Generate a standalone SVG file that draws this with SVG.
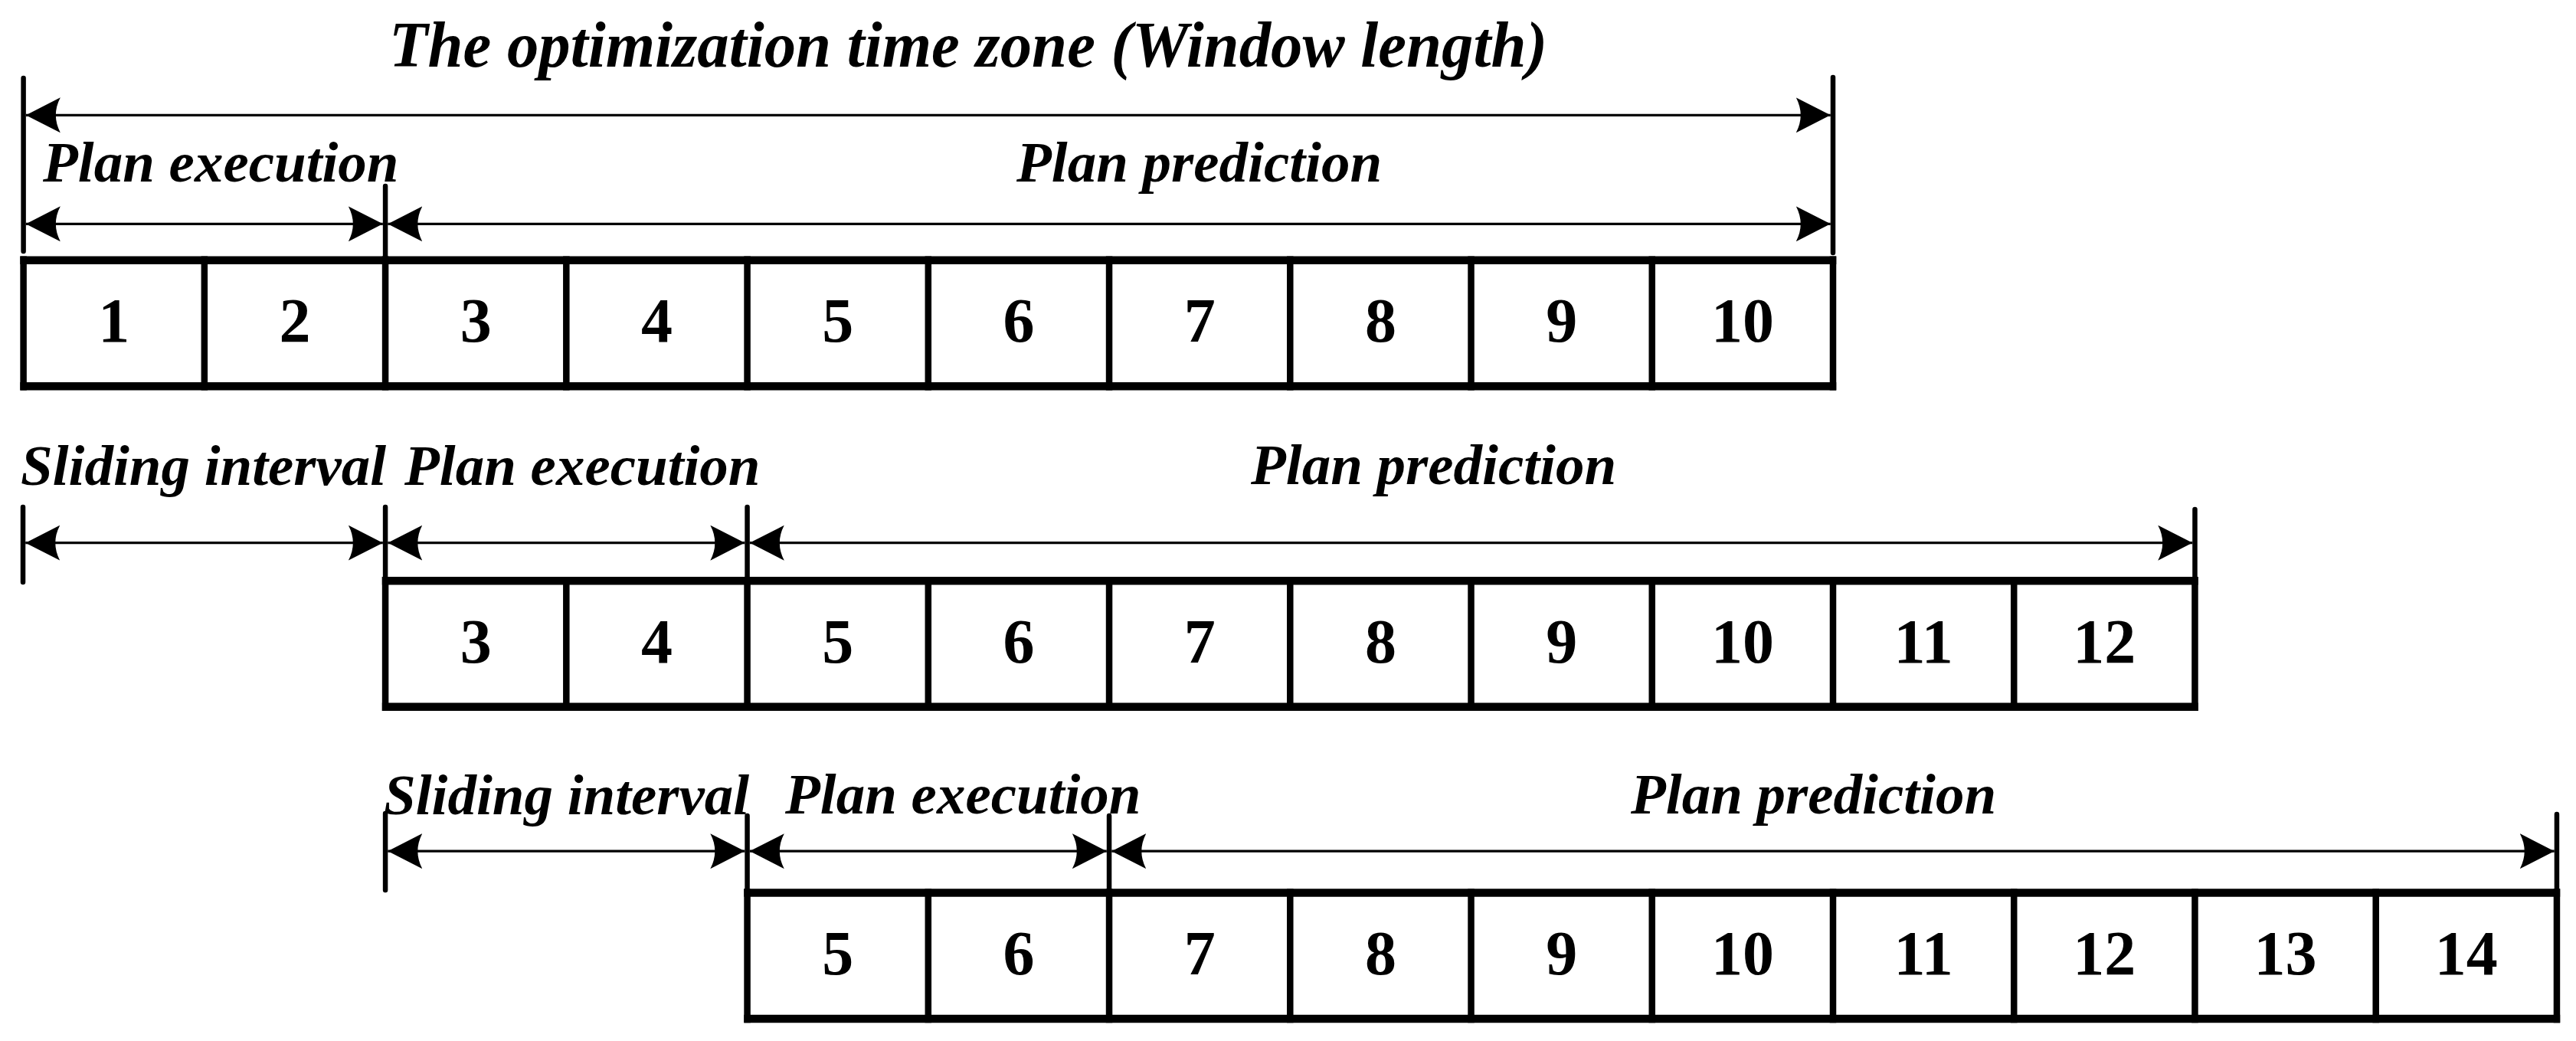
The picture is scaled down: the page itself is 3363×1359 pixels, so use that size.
<svg xmlns="http://www.w3.org/2000/svg" width="3363" height="1359" viewBox="0 0 3363 1359">
<style>
.lbl{font-family:"Liberation Serif","Times New Roman",serif;font-weight:bold;font-style:italic;font-size:75px;fill:#000}
.ttl{font-size:84px}
.num{font-family:"Liberation Serif","Times New Roman",serif;font-weight:bold;font-size:82px;fill:#000;text-anchor:middle}
.hb{fill:none;stroke:#000;stroke-width:10.5}
.vb{fill:none;stroke:#000;stroke-width:8.5}
.tick{fill:none;stroke:#000;stroke-width:6.5;stroke-linecap:round}
.shaft{fill:none;stroke:#000;stroke-width:3.3;marker-start:url(#ah);marker-end:url(#ah)}
</style>
<defs>
<marker id="ah" viewBox="0 0 45 46" refX="45" refY="23" markerWidth="45" markerHeight="46" markerUnits="userSpaceOnUse" orient="auto-start-reverse">
<path d="M45,23 L0,0 Q12,23 0,46 Z" fill="#000"/>
</marker>
</defs>
<rect width="3363" height="1359" fill="#fff"/>

<g id="labels">
<text class="lbl ttl" x="508" y="87" textLength="1512" lengthAdjust="spacingAndGlyphs">The optimization time zone (Window length)</text>
<text class="lbl" x="56" y="237">Plan execution</text>
<text class="lbl" x="1327" y="237">Plan prediction</text>
<text class="lbl" x="27" y="633">Sliding interval</text>
<text class="lbl" x="528" y="633">Plan execution</text>
<text class="lbl" x="1633" y="632">Plan prediction</text>
<text class="lbl" x="501" y="1063">Sliding interval</text>
<text class="lbl" x="1025" y="1062">Plan execution</text>
<text class="lbl" x="2129" y="1062">Plan prediction</text>
</g>

<g id="row1">
<path class="hb" d="M26.35,339.7 H2397.25 M26.35,504.2 H2397.25"/>
<path class="vb" d="M30.6,334.45 V509.45 M266.84,334.45 V509.45 M503.08,334.45 V509.45 M739.32,334.45 V509.45 M975.56,334.45 V509.45 M1211.8,334.45 V509.45 M1448.04,334.45 V509.45 M1684.28,334.45 V509.45 M1920.52,334.45 V509.45 M2156.76,334.45 V509.45 M2393,334.45 V509.45"/>
<text class="num" x="148.72" y="446">1</text>
<text class="num" x="384.96" y="446">2</text>
<text class="num" x="621.2" y="446">3</text>
<text class="num" x="857.44" y="446">4</text>
<text class="num" x="1093.68" y="446">5</text>
<text class="num" x="1329.92" y="446">6</text>
<text class="num" x="1566.16" y="446">7</text>
<text class="num" x="1802.4" y="446">8</text>
<text class="num" x="2038.64" y="446">9</text>
<text class="num" x="2274.88" y="446">10</text>
</g>

<g id="row2">
<path class="hb" d="M498.83,758.3 H2869.73 M498.83,922.8 H2869.73"/>
<path class="vb" d="M503.08,753.05 V928.05 M739.32,753.05 V928.05 M975.56,753.05 V928.05 M1211.8,753.05 V928.05 M1448.04,753.05 V928.05 M1684.28,753.05 V928.05 M1920.52,753.05 V928.05 M2156.76,753.05 V928.05 M2393,753.05 V928.05 M2629.24,753.05 V928.05 M2865.48,753.05 V928.05"/>
<text class="num" x="621.2" y="865">3</text>
<text class="num" x="857.44" y="865">4</text>
<text class="num" x="1093.68" y="865">5</text>
<text class="num" x="1329.92" y="865">6</text>
<text class="num" x="1566.16" y="865">7</text>
<text class="num" x="1802.4" y="865">8</text>
<text class="num" x="2038.64" y="865">9</text>
<text class="num" x="2274.88" y="865">10</text>
<text class="num" x="2511.12" y="865">11</text>
<text class="num" x="2747.36" y="865">12</text>
</g>

<g id="row3">
<path class="hb" d="M971.31,1165.5 H3342.21 M971.31,1330 H3342.21"/>
<path class="vb" d="M975.56,1160.25 V1335.25 M1211.8,1160.25 V1335.25 M1448.04,1160.25 V1335.25 M1684.28,1160.25 V1335.25 M1920.52,1160.25 V1335.25 M2156.76,1160.25 V1335.25 M2393,1160.25 V1335.25 M2629.24,1160.25 V1335.25 M2865.48,1160.25 V1335.25 M3101.72,1160.25 V1335.25 M3337.96,1160.25 V1335.25"/>
<text class="num" x="1093.68" y="1272">5</text>
<text class="num" x="1329.92" y="1272">6</text>
<text class="num" x="1566.16" y="1272">7</text>
<text class="num" x="1802.4" y="1272">8</text>
<text class="num" x="2038.64" y="1272">9</text>
<text class="num" x="2274.88" y="1272">10</text>
<text class="num" x="2511.12" y="1272">11</text>
<text class="num" x="2747.36" y="1272">12</text>
<text class="num" x="2983.6" y="1272">13</text>
<text class="num" x="3219.84" y="1272">14</text>
</g>

<g id="connectors">
<path class="tick" d="M30.6,102 V328 M503.08,243 V334 M2393,101 V330"/>
<path class="tick" d="M30,662 V760 M503.08,662 V753 M975.56,662 V753 M2865.48,665 V753"/>
<path class="tick" d="M503.08,1062 V1162 M975.56,1065 V1160 M1448.04,1065 V1160 M3337.96,1063 V1160"/>
<line class="shaft" x1="33.85" y1="150.3" x2="2389.75" y2="150.3"/>
<line class="shaft" x1="33.85" y1="292.3" x2="499.83" y2="292.3"/>
<line class="shaft" x1="506.33" y1="292.3" x2="2389.75" y2="292.3"/>
<line class="shaft" x1="33.25" y1="708.7" x2="499.83" y2="708.7"/>
<line class="shaft" x1="506.33" y1="708.7" x2="972.31" y2="708.7"/>
<line class="shaft" x1="978.81" y1="708.7" x2="2862.23" y2="708.7"/>
<line class="shaft" x1="506.33" y1="1111.2" x2="972.31" y2="1111.2"/>
<line class="shaft" x1="978.81" y1="1111.2" x2="1444.79" y2="1111.2"/>
<line class="shaft" x1="1451.29" y1="1111.2" x2="3334.71" y2="1111.2"/>
</g>
</svg>
